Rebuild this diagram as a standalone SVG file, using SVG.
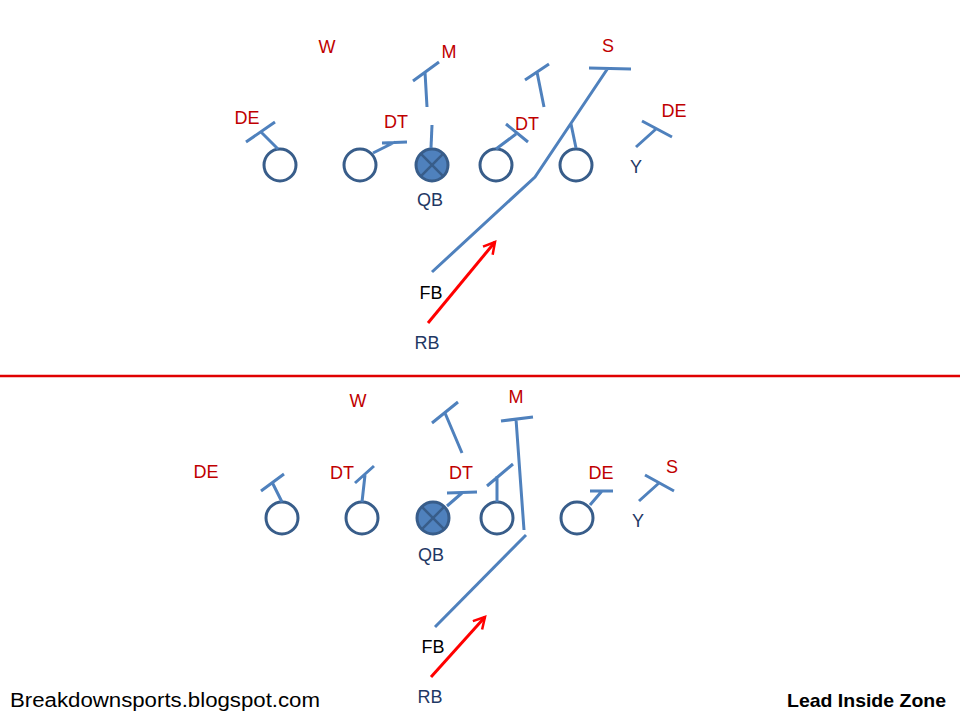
<svg xmlns="http://www.w3.org/2000/svg" width="960" height="720" viewBox="0 0 960 720">
<defs>
<style>
.ln{stroke:#4F81BD;stroke-width:3;fill:none;stroke-linecap:butt}
.pl{fill:#fff;stroke:#385D8A;stroke-width:3}
.qb{fill:#4F81BD;stroke:#385D8A;stroke-width:3}
.x{stroke:#385D8A;stroke-width:2.5}
.d{font-family:"Liberation Sans",Arial,sans-serif;font-size:18px;fill:#C00000;text-anchor:middle}
.o{font-family:"Liberation Sans",Arial,sans-serif;font-size:18px;fill:#1F3864;text-anchor:middle}
.k{font-family:"Liberation Sans",Arial,sans-serif;font-size:18px;fill:#000;text-anchor:middle}
.ar{stroke:#FF0000;stroke-width:3;fill:none}
</style>
<marker id="ah" viewBox="0 0 12 12" refX="10" refY="6" markerWidth="5" markerHeight="5" orient="auto" markerUnits="strokeWidth">
<path d="M1,1 L10,6 L1,11" fill="none" stroke="#FF0000" stroke-width="2"/>
</marker>
</defs>
<rect width="960" height="720" fill="#fff"/>

<!-- TOP PLAY -->
<g id="top-offense">
<circle id="t-lt" class="pl" cx="280" cy="165" r="16"/>
<circle id="t-lg" class="pl" cx="360" cy="165" r="16"/>
<g id="t-qb"><circle class="qb" cx="432" cy="165" r="16"/>
<line class="x" x1="420.7" y1="153.7" x2="443.3" y2="176.3"/><line class="x" x1="443.3" y1="153.7" x2="420.7" y2="176.3"/></g>
<circle id="t-rg" class="pl" cx="496" cy="165" r="16"/>
<circle id="t-rt" class="pl" cx="576" cy="165" r="16"/>
</g>
<g id="top-connectors">
<path class="ln" d="M278,149 L261,132 M246,142 L275,122"/>
<path class="ln" d="M373,153 L395,142 M382,143 L407,142"/>
<path class="ln" d="M431,148 L432,125"/>
<path class="ln" d="M427,107 L425,72 M413,81 L439,62"/>
<path class="ln" d="M496,149 L516,134 M506,124 L528,142"/>
<path class="ln" d="M544,107 L537,72 M525,80 L549,64"/>
<path class="ln" d="M432,272 L535,177 L608,68 M589,68 L631,69"/>
<path class="ln" d="M576,148 L571,124"/>
<path class="ln" d="M636,147 L656,129 M642,121 L672,137"/>
<line class="ar" x1="428" y1="323" x2="495" y2="242" marker-end="url(#ah)"/>
</g>
<g id="top-labels">
<text class="d" x="327" y="53">W</text>
<text class="d" x="449" y="58">M</text>
<text class="d" x="608" y="52">S</text>
<text class="d" x="247" y="124">DE</text>
<text class="d" x="396" y="128">DT</text>
<text class="d" x="527" y="130">DT</text>
<text class="d" x="674" y="117">DE</text>
<text class="o" x="636" y="173">Y</text>
<text class="o" x="430" y="206">QB</text>
<text class="k" x="431" y="299">FB</text>
<text class="o" x="427" y="349">RB</text>
</g>

<line id="divider" x1="0" y1="376" x2="960" y2="376" stroke="#E00000" stroke-width="2.5"/>

<!-- BOTTOM PLAY -->
<g id="bottom-offense">
<circle id="b-lt" class="pl" cx="282" cy="518" r="16"/>
<circle id="b-lg" class="pl" cx="362" cy="518" r="16"/>
<g id="b-qb"><circle class="qb" cx="433" cy="518" r="16"/>
<line class="x" x1="421.7" y1="506.7" x2="444.3" y2="529.3"/><line class="x" x1="444.3" y1="506.7" x2="421.7" y2="529.3"/></g>
<circle id="b-rg" class="pl" cx="497" cy="518" r="16"/>
<circle id="b-rt" class="pl" cx="577" cy="518" r="16"/>
</g>
<g id="bottom-connectors">
<path class="ln" d="M282,502 L272,482 M261,491 L284,474"/>
<path class="ln" d="M362,502 L365,475 M355,483 L374,466"/>
<path class="ln" d="M447,506 L462,493 M447,493 L477,492"/>
<path class="ln" d="M462,453 L445,413 M432,423 L458,402"/>
<path class="ln" d="M497,502 L497,476 M487,486 L513,464"/>
<path class="ln" d="M516,419 L524,530 M501,421 L533,417"/>
<path class="ln" d="M526,535 L435,627"/>
<path class="ln" d="M590,505 L602,491 M590,491 L613,491"/>
<path class="ln" d="M639,501 L659,483 M645,475 L674,491"/>
<line class="ar" x1="431" y1="677" x2="485" y2="617" marker-end="url(#ah)"/>
</g>
<g id="bottom-labels">
<text class="d" x="358" y="407">W</text>
<text class="d" x="516" y="403">M</text>
<text class="d" x="206" y="478">DE</text>
<text class="d" x="342" y="479">DT</text>
<text class="d" x="461" y="479">DT</text>
<text class="d" x="601" y="479">DE</text>
<text class="d" x="672" y="473">S</text>
<text class="o" x="638" y="527">Y</text>
<text class="o" x="431" y="561">QB</text>
<text class="k" x="433" y="653">FB</text>
<text class="o" x="430" y="703">RB</text>
</g>

<g id="footer">
<text x="10" y="707" font-family="Liberation Sans,Arial,sans-serif" font-size="20" fill="#000" textLength="310" lengthAdjust="spacingAndGlyphs">Breakdownsports.blogspot.com</text>
<text x="946" y="707" font-family="Liberation Sans,Arial,sans-serif" font-size="19" font-weight="bold" fill="#000" text-anchor="end" textLength="159" lengthAdjust="spacingAndGlyphs">Lead Inside Zone</text>
</g>
</svg>
